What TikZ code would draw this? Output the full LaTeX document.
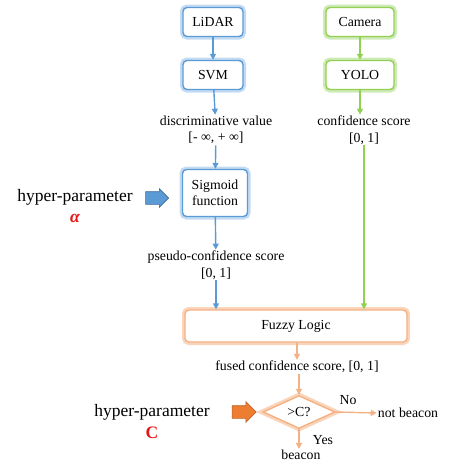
\documentclass[tikz,border=0pt]{standalone}
\usepackage{fontspec}
\setmainfont{Liberation Serif}
\usetikzlibrary{arrows.meta,shapes.geometric,shapes.arrows}
\definecolor{bl}{RGB}{91,155,213}
\definecolor{blg}{RGB}{195,219,242}
\definecolor{gr}{RGB}{146,208,80}
\definecolor{grg}{RGB}{206,234,184}
\definecolor{org}{RGB}{244,177,131}
\definecolor{orgg}{RGB}{250,212,186}
\definecolor{ordark}{RGB}{237,125,49}
\definecolor{txtred}{RGB}{230,20,20}
\begin{document}
\begin{tikzpicture}[x=1pt,y=-1pt,
  txt/.style={font=\fontsize{13.8}{16.5}\selectfont, align=center, inner sep=1pt},
  gbox/.style={draw=#1, line width=1.4pt, fill=white, rounded corners=4pt, inner sep=0pt,
     font=\fontsize{13.8}{15.5}\selectfont, align=center,
     preaction={draw=#1g, line width=6pt, rounded corners=5pt}},
  arr/.style={draw=#1, line width=1.4pt, -{Triangle[length=6pt,width=6pt]}},
  bigtxt/.style={font=\fontsize{17.5}{20}\selectfont, inner sep=0pt},
  redtxt/.style={font=\fontsize{17.5}{20}\selectfont\bfseries, text=txtred, inner sep=0pt}
]
\useasboundingbox (0,0) rectangle (474,466);
% boxes
\node[gbox=bl, minimum width=60pt, minimum height=29pt] (lidar) at (213,22) {LiDAR};
\node[gbox=bl, minimum width=60pt, minimum height=29pt] (svm) at (213,75) {SVM};
\node[gbox=gr, minimum width=68pt, minimum height=29pt] (camera) at (360,22) {Camera};
\node[gbox=gr, minimum width=68pt, minimum height=29pt] (yolo) at (360,75) {YOLO};
\node[txt] (dv) at (216,130) {discriminative value\\{}[- ∞, + ∞]};
\node[txt] (cs) at (364,130) {confidence score\\{}[0, 1]};
\node[gbox=bl, minimum width=65pt, minimum height=47pt] (sig) at (215,193) {Sigmoid\\function};
\node[txt] (pc) at (216,265) {pseudo-confidence score\\{}[0, 1]};
\node[gbox=org, minimum width=222pt, minimum height=32pt] (fuzzy) at (296,326) {Fuzzy Logic};
\node[txt] (fcs) at (297,367) {fused confidence score, [0, 1]};
\node[diamond, draw=org, line width=1.4pt, fill=white, inner sep=0pt, aspect=2.2,
      minimum width=72pt, minimum height=33pt, font=\fontsize{13.8}{15}\selectfont,
      preaction={draw=orgg, line width=6pt}] (dec) at (299,412) {>C?};
\node[txt] (notb) at (408,413) {not beacon};
\node[txt] (beacon) at (301,455) {beacon};
\node[txt] (no) at (348,400) {No};
\node[txt] (yes) at (323,440) {Yes};
% hyper-parameters
\node[bigtxt] (hp1) at (75,197) {hyper-parameter};
\node[redtxt] (alpha) at (75,218) {\textit{α}};
\node[single arrow, draw=bl!70!black, line width=0.6pt, fill=bl, minimum height=23pt,
      inner xsep=0pt, inner ysep=6pt, single arrow head extend=3pt] (ba) at (154,198) {};
\node[bigtxt] (hp2) at (152,412) {hyper-parameter};
\node[redtxt] (cc) at (152,433) {C};
\node[single arrow, draw=ordark!80!black, line width=0.6pt, fill=ordark, minimum height=24pt,
      inner xsep=0pt, inner ysep=6pt, single arrow head extend=4pt] (oa) at (241,412) {};
% connectors
\draw[arr=bl] (lidar) -- (svm);
\draw[arr=bl] (svm) -- (dv);
\draw[arr=bl] (dv) -- (sig);
\draw[arr=bl] (sig) -- (pc);
\draw[arr=bl] (pc.south) -- (pc.south |- fuzzy.north);
\draw[arr=gr] (camera) -- (yolo);
\draw[arr=gr] (yolo) -- (yolo.south |- cs.north);
\draw[arr=gr] (cs.south) -- (cs.south |- fuzzy.north);
\draw[arr=org] (fuzzy.south -| fcs.north) -- (fcs.north);
\draw[arr=org] (fcs.south -| dec.north) -- (dec.north);
\draw[arr=org] (dec.east) -- (notb.west);
\draw[arr=org] (dec.south) -- (beacon.north -| dec.south);
\end{tikzpicture}
\end{document}
